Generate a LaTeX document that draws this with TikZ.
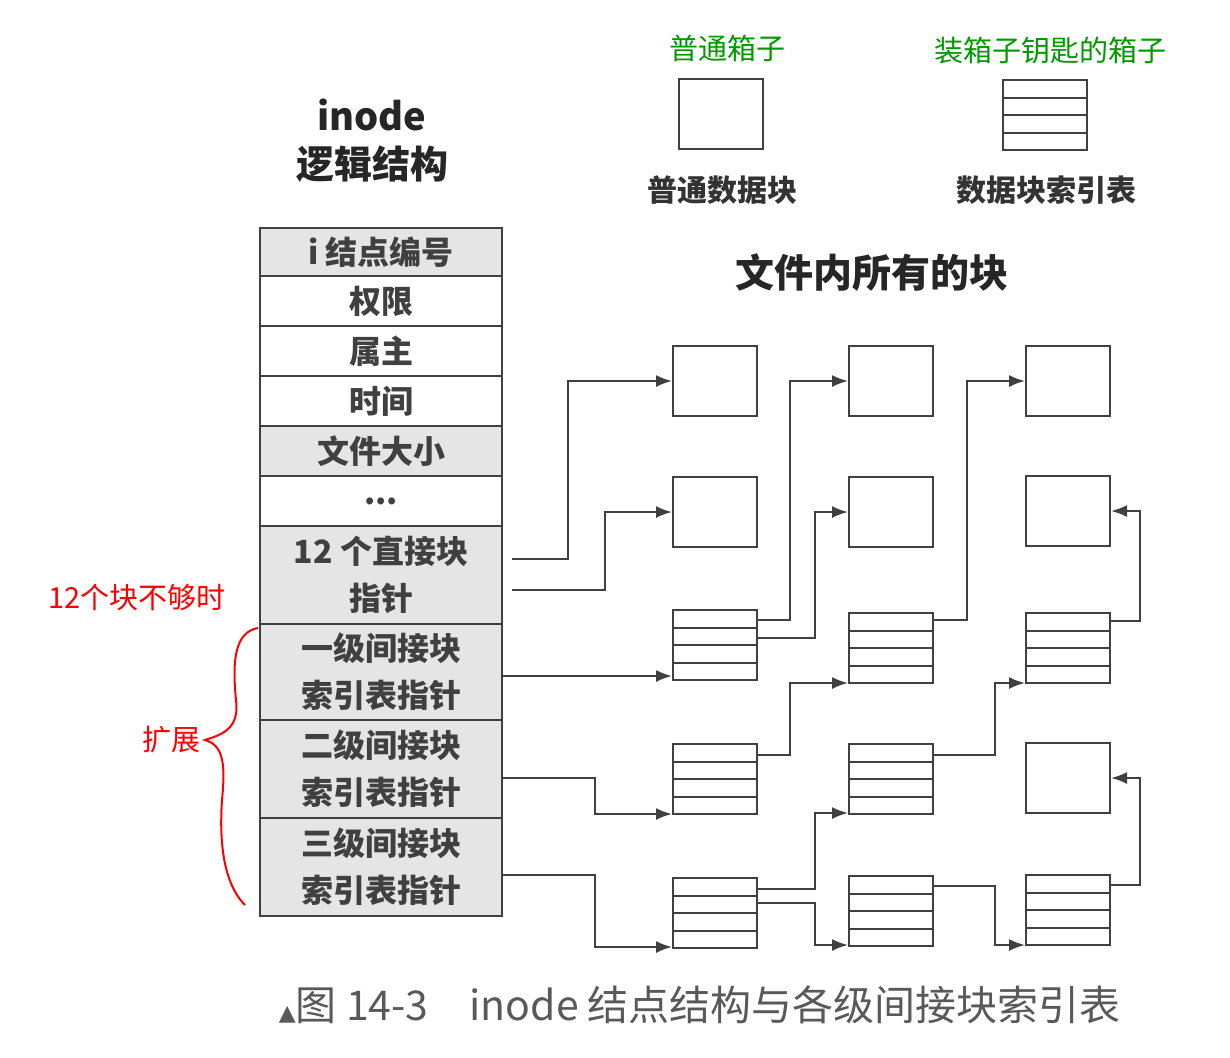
\documentclass[tikz,border=0pt]{standalone}
\usepackage{fontspec}
\setmainfont{Noto Sans CJK SC}
\usetikzlibrary{arrows.meta,calc}
\begin{document}
\begin{tikzpicture}[x=0.5pt,y=-0.5pt,
 cell/.style={draw=black!75,line width=1pt,minimum width=121pt,inner sep=0pt,font=\fontsize{16}{23.5}\selectfont\bfseries,text=black!75,align=center},
 g/.style={fill=black!10},
 blk/.style={draw=black!75,line width=1pt,minimum width=42pt,minimum height=35pt,inner sep=0pt},
 idx/.style={blk,path picture={\foreach \k in {1,2,3}{\draw[line width=1pt,black!75] ($(path picture bounding box.north west)!\k/4!(path picture bounding box.south west)$) -- ($(path picture bounding box.north east)!\k/4!(path picture bounding box.south east)$);}}},
 ar/.style={draw=black!75,line width=1pt,-{Latex[length=8pt,width=6pt]}},
 ln/.style={draw=black!75,line width=1pt}]
\useasboundingbox (0,0) rectangle (1230,1057);
% table
\node[cell,g,minimum height=24pt] (r1) at (381,252) {i 结点编号};
\node[cell,minimum height=25pt] (r2) at (381,301) {权限};
\node[cell,minimum height=25pt] (r3) at (381,351) {属主};
\node[cell,minimum height=25pt] (r4) at (381,401) {时间};
\node[cell,g,minimum height=25pt] (r5) at (381,451) {文件大小};
\node[cell,minimum height=25pt] (r6) at (381,501) {...};
\node[cell,g,minimum height=49pt] (r7) at (381,575) {12 个直接块\\指针};
\node[cell,g,minimum height=48pt] (r8) at (381,672) {一级间接块\\索引表指针};
\node[cell,g,minimum height=49pt] (r9) at (381,769) {二级间接块\\索引表指针};
\node[cell,g,minimum height=49pt] (r10) at (381,867) {三级间接块\\索引表指针};
\node[font=\fontsize{19}{24}\selectfont\bfseries,text=black!85,align=center] (t) at (372,141) {inode\\逻辑结构};
% legend
\node[text=green!60!black,font=\fontsize{14.5}{16}\selectfont] (l1) at (727,48) {普通箱子};
\node[blk] (lb1) at (721,114) {};
\node[font=\fontsize{15}{16}\selectfont\bfseries,text=black!80] (l1b) at (722,190) {普通数据块};
\node[text=green!60!black,font=\fontsize{14.5}{16}\selectfont] (l2) at (1050,50) {装箱子钥匙的箱子};
\node[idx] (lb2) at (1045,115) {};
\node[font=\fontsize{15}{16}\selectfont\bfseries,text=black!80] (l2b) at (1046,190) {数据块索引表};
\node[font=\fontsize{19.5}{22}\selectfont\bfseries,text=black!85] (tt) at (872,273) {文件内所有的块};
% blocks
\node[blk] (a1) at (715,381) {};
\node[blk] (b1) at (891,381) {};
\node[blk] (c1) at (1068,381) {};
\node[blk] (a2) at (715,512) {};
\node[blk] (b2) at (891,512) {};
\node[blk] (c2) at (1068,511) {};
\node[idx] (a3) at (715,645) {};
\node[idx] (b3) at (891,648) {};
\node[idx] (c3) at (1068,648) {};
\node[idx] (a4) at (715,779) {};
\node[idx] (b4) at (891,779) {};
\node[blk] (c4) at (1068,778) {};
\node[idx] (a5) at (715,913) {};
\node[idx] (b5) at (891,911) {};
\node[idx] (c5) at (1068,910) {};
% connectors
\coordinate (s1) at (512,559);
\coordinate (s2) at (512,590);
\draw[ar] (s1) -- (568,559) |- (a1.west);
\draw[ar] (s2) -- (605,590) |- (a2.west);
\draw[ar] (a3.east |- 0,620) -- (790,620) |- (b1.west);
\draw[ar] (a3.east |- 0,638) -- (815,638) |- (b2.west);
\draw[ar] (b3.east |- 0,620) -- (967,620) |- (c1.west);
\draw[ar] (c3.east |- 0,621) -- (1140,621) |- (c2.east);
\draw[ar] (r8.east |- 0,676) -- (a3.west |- 0,676);
\draw[ar] (a4.east |- 0,755) -- (790,755) |- (b3.west |- 0,683);
\draw[ar] (b4.east |- 0,755) -- (995,755) |- (c3.west |- 0,683);
\draw[ar] (r9.east |- 0,778) -- (595,778) |- (a4.west |- 0,814);
\draw[ar] (r10.east |- 0,875) -- (595,875) |- (a5.west |- 0,947);
\draw[ar] (a5.east |- 0,889) -- (815,889) |- (b4.west |- 0,813);
\draw[ar] (a5.east |- 0,903) -- (815,903) |- (b5.west |- 0,945);
\draw[ar] (b5.east |- 0,886) -- (995,886) |- (c5.west |- 0,945);
\draw[ar] (c5.east |- 0,885) -- (1140,885) |- (c4.east);
% annotations
\node[text=red,font=\fontsize{14.5}{16}\selectfont] (n1) at (137,597) {12个块不够时};
\node[text=red,font=\fontsize{14.5}{16}\selectfont] (n2) at (171,740) {扩展};
\draw[red,line width=1pt] (258,628) .. controls (235,632) and (232,660) .. (236,700) .. controls (240,730) and (220,735) .. (205,740) .. controls (222,745) and (226,760) .. (222,800) .. controls (218,860) and (230,890) .. (245,905);
\node[text=black!65] (cap) at (700,1005) {\fontspec{DejaVu Sans}\fontsize{11}{12}\selectfont▲\fontspec{Noto Sans CJK SC}\fontsize{20.5}{22}\selectfont 图 14-3\quad inode 结点结构与各级间接块索引表};
\end{tikzpicture}
\end{document}
